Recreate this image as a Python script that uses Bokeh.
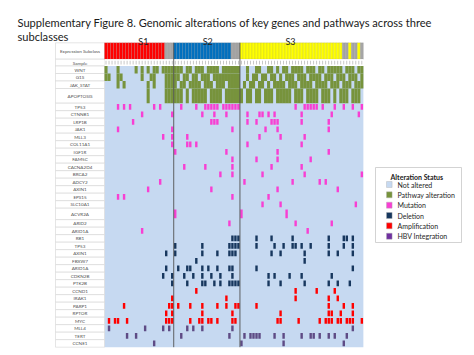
from bokeh.plotting import figure, ColumnDataSource
from bokeh.models import Range1d
from bokeh.embed import file_html
from bokeh.resources import INLINE
from bokeh.core.properties import value

# ---------------- data ----------------
title_lines = ["Supplementary Figure 8. Genomic alterations of key genes and pathways across three",
               "subclasses"]
subclass_names = ["S1", "S2", "S3"]
subclass_sizes = [23, 22, 41]
# expression subclass per sample: R=S1, B=S2, Y=S3, G=unassigned (grey)
expression_subclass = ("RRRRRRRRRRRRRRRRRRRRGGG" "BBBBBBBBBBBBBBBBBBBGGG"
                       "YYYYYYYYYYYYYYYYYYYYYYYYYYYYYYYYYYGGYGGYG")

pathway_genes = ["WNT", "G1S", "JAK_STAT", "APOPTOSIS"]
pathway_status = {
    "WNT":       "#...#.....#.#.#.##.#######.##.###.####.######..#..##..##.#.##.####.###.##.#####.###.##",
    "G1S":       "##..##......#..##...#####.##.##.###.#########..#.##.##.##.#.###.###.####.###.###.###.#",
    "JAK_STAT":  "....#.#.......#.#...####.##.####.###.###.####.#.##.##.#.####.###.####.####.###.###.###",
    "APOPTOSIS": "..............#.....######.#.#####.####.######.##.##.###.#####.###.####.###.#.###.###.",
}

mutation_genes = ["TP53", "CTNNB1", "LRP1B", "JAK1", "MLL3", "COL11A1", "IGF1R", "FAM5C",
                  "CACNA2D4", "BRCA2", "ADCY2", "AXIN1", "EPS15", "SLC10A1", "ACVR2A",
                  "ARID2", "ARID1A"]
mutation_hits = [
    [4, 6, 8, 16, 18, 25, 30, 33, 34, 35, 36, 37, 39, 40, 41, 42, 43, 44, 63, 66, 67, 68, 69, 70, 72, 76, 79, 82, 85],
    [12, 22, 32, 36, 40, 47, 51, 52, 54, 56, 65, 75, 84],
    [9, 35, 36, 37, 47, 50, 55, 56, 57, 65, 74],
    [4, 22, 42, 53, 57, 74],
    [19, 22, 27, 51, 58, 66],
    [22, 27, 28, 30, 47, 65],
    [23, 40, 57, 74],
    [42, 50, 57, 68],
    [26, 33, 42, 55, 65],
    [38, 42, 52, 66, 85],
    [18, 46, 62, 71, 73],
    [14, 35, 57, 77],
    [4, 6, 42, 54],
    [52, 58, 83],
    [23, 45, 60],
    [41, 63, 75],
    [12, 67],
]

deletion_genes = ["RB1", "TP53", "AXIN1", "FBXW7", "ARID1A", "CDKN2B", "PTK2B"]
deletion_hits = [
    [42, 43, 44, 50, 55, 62, 74, 79, 80, 82],
    [23, 32, 41, 42, 43, 44, 50, 56, 59, 62, 63, 65, 68, 74, 79, 82],
    [20, 23, 32, 37, 41, 42, 43, 55, 58, 66, 74, 77, 82],
    [30, 66],
    [20, 24, 27, 28, 32, 34, 37, 41, 42, 50, 82],
    [19, 22, 26, 29, 32, 35, 38, 42, 54, 56, 61, 65, 75],
    [22, 27, 32, 33, 36, 38, 41, 42, 43, 44, 54, 58, 66, 74, 77, 81],
]

amplification_genes = ["CCND1", "IRAK1", "PARP1", "RPTOR", "MYC"]
amplification_hits = [
    [30, 63, 70, 76],
    [22, 40, 63, 74, 77],
    [6, 21, 22, 24, 28, 32, 37, 40, 43, 44, 50, 74, 79, 82],
    [20, 22, 32, 42, 58, 74, 75, 78, 82],
    [1, 3, 4, 7, 20, 21, 22, 28, 31, 32, 34, 35, 37, 42, 43, 57, 58, 64, 71, 73, 74, 75, 77, 78, 80, 81, 82, 85],
]

hbv_genes = ["MLL4", "TERT", "CCNE1"]
hbv_hits = [
    [1, 13, 19, 21, 27, 29, 32, 42, 82],
    [7, 10, 25, 41, 46, 48, 49, 50, 51, 56, 59, 65, 68, 69, 71, 74, 76, 80],
    [16, 45, 59, 79],
]

legend_labels = ["Not altered", "Pathway alteration", "Mutation", "Deletion",
                 "Amplification", "HBV Integration"]

# ---------------- styles / layout ----------------
FONT = "Lato"
C_NONE = "#C6D9F1"
C_PATH = "#77933C"
C_MUT = "#F83FD3"
C_DEL = "#17375E"
C_AMP = "#FF0000"
C_HBV = "#5E4B85"
legend_colors = [C_NONE, C_PATH, C_MUT, C_DEL, C_AMP, "#7030A0"]
class_colors = {"R": "#FF0000", "B": "#0070C0", "Y": "#FFFF00", "G": "#A6A6A6"}

PW, PH = 474, 355
X0, CW = 104.0, 3.01
N = len(expression_subclass)
XL, XR = 55.0, 104.0           # label column
ES_TOP, ES_H = 42.3, 16.4
SAMPLE_H = 6.8
RH = 7.5

p = figure(width=PW, height=PH, x_range=Range1d(0, PW), y_range=Range1d(PH, 0),
           output_backend="svg", toolbar_location=None, min_border=0,
           x_axis_type=None, y_axis_type=None)
p.grid.visible = False
p.outline_line_color = None
p.background_fill_color = "white"
p.border_fill_color = "white"

# rows: (label, type, hits-or-string, height factor)
rows = []
for g in pathway_genes:
    rows.append((g, "path", pathway_status[g], 1.96 if g == "APOPTOSIS" else 1.0))
for g, h in zip(mutation_genes, mutation_hits):
    rows.append((g, "mut", h, 1.53 if g == "ACVR2A" else 1.0))
for g, h in zip(deletion_genes, deletion_hits):
    rows.append((g, "del", h, 1.0))
for g, h in zip(amplification_genes, amplification_hits):
    rows.append((g, "amp", h, 1.0))
for g, h in zip(hbv_genes, hbv_hits):
    rows.append((g, "hbv", h, 1.0))
type_color = {"path": C_PATH, "mut": C_MUT, "del": C_DEL, "amp": C_AMP, "hbv": C_HBV}

top0 = ES_TOP + ES_H + SAMPLE_H
heat_bottom = top0 + sum(r[3] for r in rows) * RH
x_end = X0 + N * CW

# label table cells
lab = dict(l=[], r=[], t=[], b=[], x=[], y=[], txt=[])
def add_label(txt, t, b):
    lab["l"].append(XL); lab["r"].append(XR); lab["t"].append(t); lab["b"].append(b)
    lab["x"].append((XL + XR) / 2); lab["y"].append((t + b) / 2); lab["txt"].append(txt)

add_label("Expression Subclass", ES_TOP, ES_TOP + ES_H)
add_label("Sample", ES_TOP + ES_H, top0)

# heat background
p.quad(left=[X0], right=[x_end], top=[top0], bottom=[heat_bottom], fill_color=C_NONE, line_color=None)

cells = dict(l=[], r=[], t=[], b=[], c=[])
y = top0
for name, typ, hits, hf in rows:
    h = hf * RH
    add_label(name, y, y + h)
    if typ == "path":
        idx = [i for i, ch in enumerate(hits) if ch == "#"]
        for i in idx:
            cells["l"].append(X0 + i * CW); cells["r"].append(X0 + (i + 1) * CW + 0.05)
            cells["t"].append(y); cells["b"].append(y + h + 0.05); cells["c"].append(C_PATH)
    else:
        for i in hits:
            cx = X0 + (i + 0.5) * CW
            cells["l"].append(cx - CW * 0.4); cells["r"].append(cx + CW * 0.4)
            cells["t"].append(y + h * 0.12); cells["b"].append(y + h * 0.88)
            cells["c"].append(type_color[typ])
    y += h

p.quad(left="l", right="r", top="t", bottom="b", source=ColumnDataSource(lab),
       fill_color="white", line_color="#D4D4D4", line_width=0.6)
p.text(x="x", y="y", text="txt", source=ColumnDataSource(lab), text_align="center",
       text_baseline="middle", text_font=value(FONT), text_font_size=value("4.6px"),
       text_color="#505050")

p.quad(left="l", right="r", top="t", bottom="b", fill_color="c", line_color=None,
       source=ColumnDataSource(cells))

# expression subclass bar
es = dict(l=[X0 + i * CW for i in range(N)], r=[X0 + (i + 1) * CW for i in range(N)],
          c=[class_colors[ch] for ch in expression_subclass])
p.quad(left="l", right="r", top=ES_TOP, bottom=ES_TOP + ES_H, fill_color="c",
       line_color="#7F7F7F", line_alpha=0.35, line_width=0.5, source=ColumnDataSource(es))

# sample row ticks
p.quad(left=[X0], right=[x_end], top=[ES_TOP + ES_H], bottom=[top0], fill_color="white", line_color=None)
sx = [X0 + (i + 0.5) * CW for i in range(N)]
p.quad(left=[v - 0.35 for v in sx], right=[v + 0.35 for v in sx],
       top=ES_TOP + ES_H + 1.6, bottom=top0 - 1.6, fill_color="#B0B0B0", line_color=None)

# separators between subclasses
bounds = [sum(subclass_sizes[:k]) for k in (1, 2)]
p.segment(x0=[X0 + b * CW for b in bounds], x1=[X0 + b * CW for b in bounds],
          y0=ES_TOP, y1=heat_bottom, line_color="#505050", line_width=0.9)

# subclass names
label_cols = [12.9, 34.3, 61.8]
p.text(x=[X0 + c * CW for c in label_cols], y=[ES_TOP - 1.5] * 3, text=subclass_names,
       text_align="center", text_baseline="alphabetic", text_font=value(FONT),
       text_font_size=value("9px"), text_color="#262626")

# title
p.text(x=[17, 17], y=[21.7, 36.2], text=title_lines, text_align="left",
       text_baseline="alphabetic", text_font=value(FONT), text_font_size=value("11.1px"),
       text_color="#1a1a1a")

# legend
p.quad(left=[375], right=[461], top=[167], bottom=[242], fill_color="white",
       line_color="#C8C8C8", line_width=0.8)
p.text(x=[390], y=[176], text=["Alteration Status"], text_font=value(FONT),
       text_font_style="bold", text_font_size=value("7px"), text_baseline="alphabetic",
       text_color="#1a1a1a")
ly = [184 + k * 10.34 for k in range(len(legend_labels))]
p.quad(left=386, right=391.6, top=[v - 3 for v in ly], bottom=[v + 3 for v in ly],
       fill_color=legend_colors, line_color="#B0B0B0", line_width=0.4)
p.text(x=397, y=ly, text=legend_labels, text_font=value(FONT), text_font_size=value("7px"),
       text_baseline="middle", text_color="#262626")

open("out.html", "w").write(file_html(p, INLINE))
